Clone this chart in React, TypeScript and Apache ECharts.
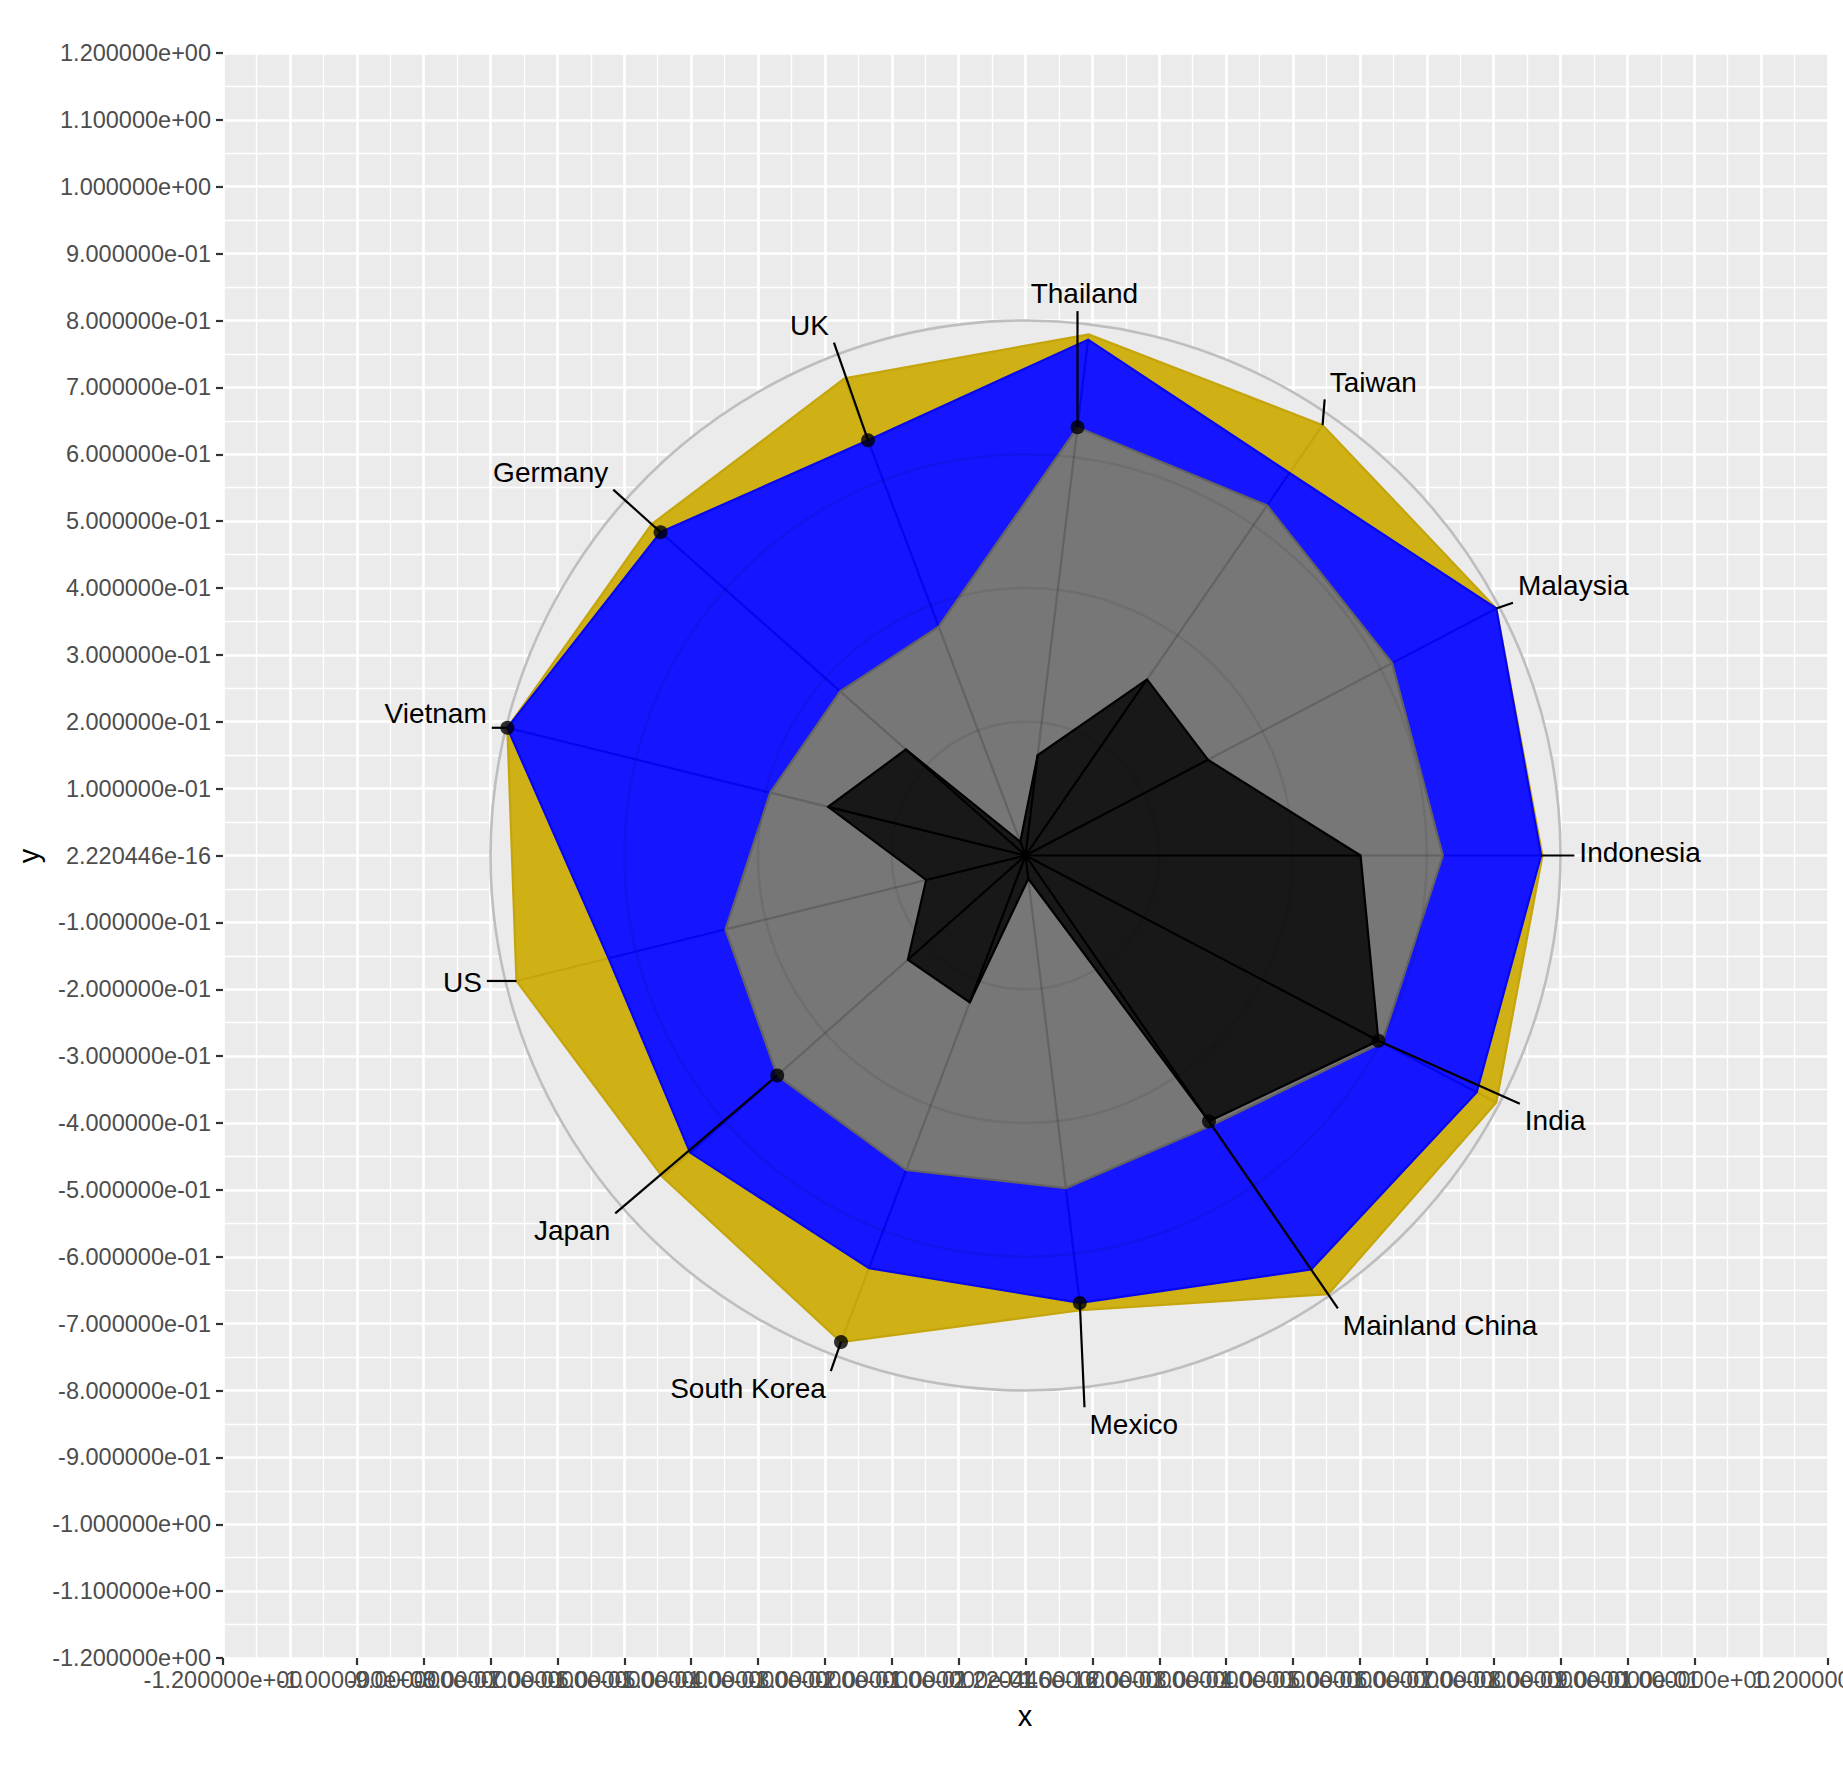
import React, { useEffect, useRef } from "react";
import * as echarts from "echarts";

// ---------------- data ----------------
const categories = [
  "Indonesia", "Malaysia", "Taiwan", "Thailand", "UK", "Germany", "Vietnam",
  "US", "Japan", "South Korea", "Mexico", "Mainland China", "India",
];
const goldValues = [0.773, 0.795, 0.782, 0.785, 0.763, 0.747, 0.798, 0.784, 0.725, 0.778, 0.685, 0.797, 0.795];
const blueValues = [0.771, 0.795, 0.695, 0.777, 0.664, 0.729, 0.798, 0.642, 0.670, 0.660, 0.674, 0.752, 0.762];
const greyValues = [0.624, 0.619, 0.636, 0.645, 0.366, 0.370, 0.393, 0.462, 0.496, 0.503, 0.501, 0.490, 0.602];
const blackValues = [0.501, 0.308, 0.320, 0.151, 0.022, 0.239, 0.304, 0.153, 0.235, 0.235, 0.035, 0.483, 0.596];
const dotValues: (number | null)[] = [null, null, null, 0.645, 0.664, 0.729, 0.798, null, 0.496, 0.778, 0.674, 0.483, 0.596];
const anchorValues = [0.771, 0.795, 0.782, 0.645, 0.664, 0.729, 0.798, 0.784, 0.496, 0.778, 0.674, 0.483, 0.596];
const labelX = [0.919, 0.819, 0.520, 0.088, -0.323, -0.710, -0.882, -0.842, -0.678, -0.415, 0.162, 0.620, 0.792];
const labelY = [0.005, 0.404, 0.708, 0.840, 0.793, 0.573, 0.213, -0.190, -0.561, -0.797, -0.851, -0.703, -0.397];
const gridRadii = [0.2, 0.4, 0.6];
const outerRadius = 0.8;

const axisTickValues = [
  -1.2, -1.1, -1.0, -0.9, -0.8, -0.7, -0.6, -0.5, -0.4, -0.3, -0.2, -0.1, 0,
  0.1, 0.2, 0.3, 0.4, 0.5, 0.6, 0.7, 0.8, 0.9, 1.0, 1.1, 1.2,
];
const axisTickLabels = [
  "-1.200000e+00", "-1.100000e+00", "-1.000000e+00", "-9.000000e-01", "-8.000000e-01",
  "-7.000000e-01", "-6.000000e-01", "-5.000000e-01", "-4.000000e-01", "-3.000000e-01",
  "-2.000000e-01", "-1.000000e-01", "2.220446e-16", "1.000000e-01", "2.000000e-01",
  "3.000000e-01", "4.000000e-01", "5.000000e-01", "6.000000e-01", "7.000000e-01",
  "8.000000e-01", "9.000000e-01", "1.000000e+00", "1.100000e+00", "1.200000e+00",
];

// ---------------- helpers ----------------
const FONT = '"Liberation Sans", Arial, Helvetica, sans-serif';
const LABEL_SIZE = 28;
const TICK_SIZE = 23.5;

const n = categories.length;
const angle = (i: number) => (2 * Math.PI * i) / n;
const toXY = (r: number, i: number): [number, number] => [r * Math.cos(angle(i)), r * Math.sin(angle(i))];

let measureCtx: CanvasRenderingContext2D | null = null;
function textWidth(t: string, size: number): number {
  if (!measureCtx) measureCtx = document.createElement("canvas").getContext("2d");
  if (!measureCtx) return t.length * size * 0.55;
  measureCtx.font = `${size}px ${FONT}`;
  return measureCtx.measureText(t).width;
}

const tickFormatter = (v: number) => {
  const idx = axisTickValues.findIndex((t) => Math.abs(t - v) < 1e-6);
  return idx >= 0 ? axisTickLabels[idx] : "";
};

function polygonSeries(name: string, values: number[], fill: string, stroke: string, z: number) {
  const pts = values.map((r, i) => toXY(r, i));
  return {
    type: "custom",
    name,
    coordinateSystem: "cartesian2d",
    z,
    silent: true,
    clip: false,
    data: [[0, 0]],
    renderItem: (_params: any, api: any) => {
      const c = api.coord([0, 0]);
      const px = pts.map((p) => api.coord(p));
      const children: any[] = [
        {
          type: "polygon",
          shape: { points: px },
          style: { fill, stroke, lineWidth: 2.2, lineJoin: "miter" },
        },
      ];
      px.forEach((p: number[]) =>
        children.push({
          type: "line",
          shape: { x1: c[0], y1: c[1], x2: p[0], y2: p[1] },
          style: { stroke, lineWidth: 2.2 },
        })
      );
      return { type: "group", children };
    },
  };
}

function circleSeries(radii: number[], fill: string, stroke: string, lineWidth: number, z: number) {
  return {
    type: "custom",
    coordinateSystem: "cartesian2d",
    z,
    silent: true,
    clip: false,
    data: [[0, 0]],
    renderItem: (_params: any, api: any) => {
      const c = api.coord([0, 0]);
      return {
        type: "group",
        children: radii.map((r) => {
          const e = api.coord([r, 0]);
          return {
            type: "circle",
            shape: { cx: c[0], cy: c[1], r: e[0] - c[0] },
            style: { fill, stroke, lineWidth },
          };
        }),
      };
    },
  };
}

function axisCommon(margin: number) {
  return {
    type: "value",
    min: -1.2,
    max: 1.2,
    interval: 0.1,
    axisLine: { show: false, onZero: false },
    axisTick: { show: true, length: 7, lineStyle: { color: "#333333", width: 2.2 } },
    axisLabel: {
      show: true,
      formatter: tickFormatter,
      color: "#4D4D4D",
      fontSize: TICK_SIZE,
      fontFamily: FONT,
      margin,
      showMinLabel: true,
      showMaxLabel: true,
      hideOverlap: false,
    },
    splitLine: { show: true, lineStyle: { color: "#FFFFFF", width: 2.6 } },
    minorTick: { show: false, splitNumber: 2 },
    minorSplitLine: { show: true, lineStyle: { color: "#FFFFFF", width: 1.3 } },
  };
}

function buildOption() {
  const labelData = categories.map((_, i) => {
    const a = toXY(anchorValues[i], i);
    return [a[0], a[1], labelX[i], labelY[i], i];
  });
  const dotData = dotValues
    .map((r, i) => (r == null ? null : toXY(r, i)))
    .filter((p) => p !== null);

  return {
    animation: false,
    backgroundColor: "#FFFFFF",
    textStyle: { fontFamily: FONT },
    grid: {
      left: 223,
      top: 53,
      width: 1605,
      height: 1605,
      show: true,
      backgroundColor: "#EBEBEB",
      borderWidth: 0,
      containLabel: false,
      outerBoundsMode: "none",
    },
    xAxis: { ...axisCommon(10), position: "bottom" },
    yAxis: { ...axisCommon(12), position: "left" },
    graphic: [
      {
        type: "text",
        x: 1025,
        y: 1716,
        style: {
          text: "x",
          fill: "#000000",
          font: `29px ${FONT}`,
          fontSize: 29,
          fontFamily: FONT,
          textAlign: "center",
          textVerticalAlign: "middle",
          align: "center",
          verticalAlign: "middle",
        },
      },
      {
        type: "text",
        x: 29,
        y: 856,
        rotation: Math.PI / 2,
        style: {
          text: "y",
          fill: "#000000",
          font: `29px ${FONT}`,
          fontSize: 29,
          fontFamily: FONT,
          textAlign: "center",
          textVerticalAlign: "middle",
          align: "center",
          verticalAlign: "middle",
        },
      },
    ],
    series: [
      circleSeries([outerRadius], "#EBEBEB", "#BEBEBE", 2.6, 1),
      polygonSeries("gold", goldValues, "#CFB015", "#C4A50C", 2),
      polygonSeries("blue", blueValues, "#1515FF", "#0606EE", 3),
      polygonSeries("grey", greyValues, "#777777", "#636363", 4),
      polygonSeries("black", blackValues, "#181818", "#000000", 5),
      circleSeries(gridRadii, "none", "rgba(0,0,0,0.07)", 2.6, 6),
      {
        type: "custom",
        coordinateSystem: "cartesian2d",
        z: 7,
        silent: true,
        clip: false,
        data: labelData,
        renderItem: (_params: any, api: any) => {
          const i = api.value(4);
          const a = api.coord([api.value(0), api.value(1)]);
          const l = api.coord([api.value(2), api.value(3)]);
          const text = categories[i];
          const hw = textWidth(text, LABEL_SIZE) / 2 + 5;
          const hh = LABEL_SIZE * 0.62;
          const ex = Math.min(Math.max(a[0], l[0] - hw), l[0] + hw);
          const ey = Math.min(Math.max(a[1], l[1] - hh), l[1] + hh);
          return {
            type: "group",
            children: [
              {
                type: "line",
                shape: { x1: a[0], y1: a[1], x2: ex, y2: ey },
                style: { stroke: "#000000", lineWidth: 2.2 },
              },
              {
                type: "text",
                x: l[0],
                y: l[1],
                style: {
                  text,
                  fill: "#000000",
                  font: `${LABEL_SIZE}px ${FONT}`,
                  fontSize: LABEL_SIZE,
                  fontFamily: FONT,
                  textAlign: "center",
                  textVerticalAlign: "middle",
                  align: "center",
                  verticalAlign: "middle",
                },
              },
            ],
          };
        },
      },
      {
        type: "scatter",
        z: 8,
        silent: true,
        symbol: "circle",
        symbolSize: 14,
        itemStyle: { color: "#000000" },
        data: dotData,
      },
    ],
  };
}

export default function App() {
  const ref = useRef<HTMLDivElement>(null);
  useEffect(() => {
    if (!ref.current) return;
    const chart = echarts.init(ref.current, null, { renderer: "svg" });
    chart.setOption(buildOption() as any);
    return () => chart.dispose();
  }, []);
  return (
    <div
      ref={ref}
      style={{ position: "absolute", left: 0, top: 0, width: 1843, height: 1785, background: "#FFFFFF" }}
    />
  );
}
